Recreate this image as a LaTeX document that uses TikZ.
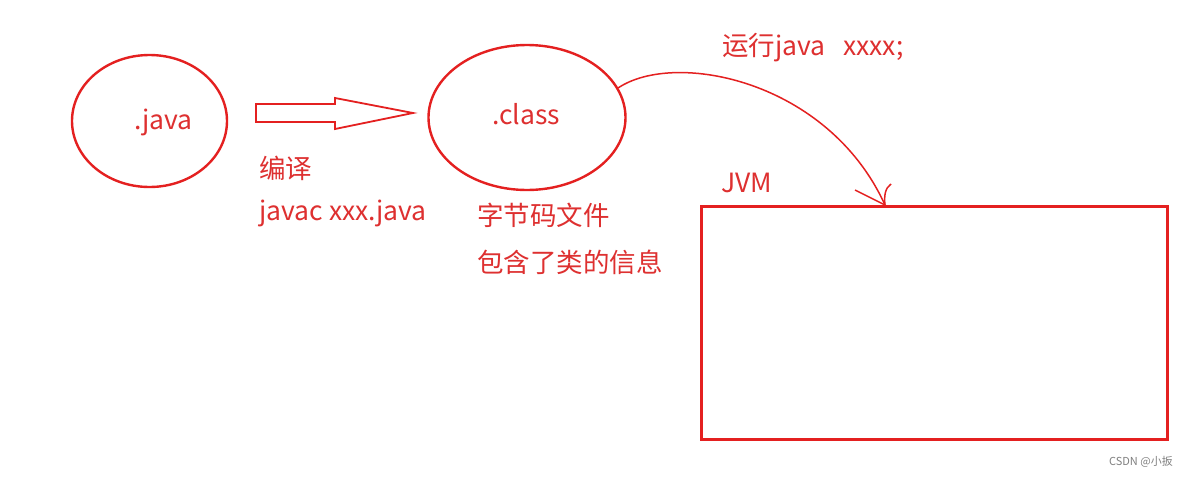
\documentclass[tikz,border=0pt]{standalone}
\usepackage{fontspec}
\setmainfont{Noto Sans CJK SC}
\usetikzlibrary{shapes.geometric,calc}
\definecolor{pred}{RGB}{228,32,32}
\definecolor{tred}{RGB}{222,48,48}
\tikzset{
  oval/.style={draw=pred,line width=2.4pt,ellipse,inner sep=0pt},
  lbl/.style={text=tred,font=\fontsize{26.5}{30}\selectfont,inner sep=0pt,anchor=west},
}
\begin{document}
\begin{tikzpicture}[x=1pt,y=-1pt]
\useasboundingbox[fill=white] (0,0) rectangle (1187,477);
% ellipses
\node[oval,minimum width=155,minimum height=132] (j) at (149.5,121) {};
\node[oval,minimum width=197,minimum height=145] (c) at (527,117.5) {};
\node[lbl] (jt) at (134,122) {.java};
\node[lbl] (ct) at (492,114) {.class};
% block arrow
\draw[pred,line width=1.8pt,line join=miter]
  (256,104) -- (335,104) -- (335,98) -- (413,113) -- (335,129) -- (335,122) -- (256,122) -- cycle;
\node[lbl] (bianyi) at (259,168) {编译};
\node[lbl] (javac) at (259,213) {javac xxx.java};
\node[lbl] (zj) at (477,215) {字节码文件};
\node[lbl] (bh) at (477,262) {包含了类的信息};
% JVM box
\node[draw=pred,line width=2.6pt,minimum width=466,minimum height=233,inner sep=0pt,anchor=north west] (jvm) at (700,205) {};
\node[lbl] (jvmt) at (721,183) {JVM};
\node[lbl] (run) at (722,48) {运行java\ \ \ xxxx;};
% curved connector
\coordinate (s) at (c.18);
\coordinate (e) at ($(jvm.north west)+(185,0)$);
\draw[pred,line width=1.5pt] (s) .. controls (675,50) and (828,80) .. (e);
\draw[pred,line width=1.5pt] (855,190) -- (e);
\draw[pred,line width=1.5pt] (891,184) .. controls (885,188) and (884,196) .. (e);
% watermark
\node[text=black!50,font=\fontsize{11}{13}\selectfont,anchor=east,inner sep=0pt] (wm) at (1173,462) {CSDN @小扳};
\end{tikzpicture}
\end{document}
